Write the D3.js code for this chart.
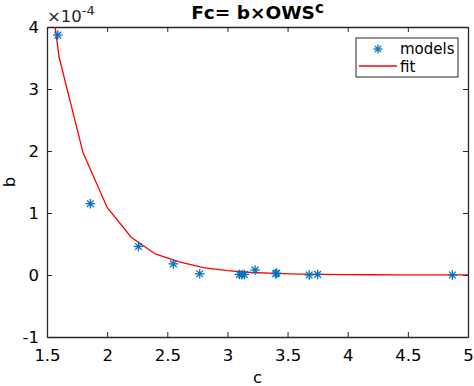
<!DOCTYPE html>
<html>
<head>
<meta charset="utf-8">
<script src="https://cdn.jsdelivr.net/npm/d3@7"></script>
<style>
  body { margin: 0; background: #fff; }
  svg { display: block; font-family: "DejaVu Sans", sans-serif; }
  .tk text { font-size: 16.5px; fill: #000; font-family: "DejaVu Sans", sans-serif; }
</style>
</head>
<body>
<div id="chart"></div>
<script>
// model points (c, b in units of 1e-4)
const modelC = [1.59, 1.86, 2.26, 2.55, 2.77, 3.10, 3.12, 3.14, 3.23, 3.40, 3.41, 3.68, 3.75, 4.87];
const modelB = [3.87, 1.15, 0.46, 0.18, 0.02, 0.01, 0.005, 0.01, 0.08, 0.02, 0.03, 0.0, 0.01, 0.0];
// fitted curve samples
const fitC = [1.5, 1.6, 1.8, 2.0, 2.2, 2.4, 2.6, 2.8, 3.0, 3.2, 3.4, 3.6, 3.8, 4.0, 4.2, 4.4, 4.6, 4.8, 5.0];
const fitB = [5.0, 3.52, 1.97, 1.09, 0.61, 0.34, 0.21, 0.12, 0.07, 0.04, 0.025, 0.015, 0.01, 0.006, 0.004, 0.003, 0.002, 0.001, 0.001];
const xTicks = [1.5, 2, 2.5, 3, 3.5, 4, 4.5, 5];
const yTicks = [-1, 0, 1, 2, 3, 4];

const W = 474, H = 386, m = { t: 27, r: 6, b: 49, l: 47 };
const x = d3.scaleLinear().domain([1.5, 5]).range([m.l, W - m.r]);
const y = d3.scaleLinear().domain([-1, 4]).range([H - m.b, m.t]);
const svg = d3.select('#chart').append('svg').attr('width', W).attr('height', H);

svg.append('clipPath').attr('id', 'clip').append('rect')
  .attr('x', m.l).attr('y', m.t).attr('width', W - m.r - m.l).attr('height', H - m.b - m.t);

// axes: ticks inward on all four sides, box on
const tl = 5;
const gx = svg.append('g').attr('class', 'tk').attr('transform', `translate(0,${H - m.b})`)
  .call(d3.axisBottom(x).tickValues(xTicks).tickFormat(String).tickSizeInner(-tl).tickSizeOuter(0).tickPadding(9));
const gy = svg.append('g').attr('class', 'tk').attr('transform', `translate(${m.l},0)`)
  .call(d3.axisLeft(y).tickValues(yTicks).tickFormat(String).tickSizeInner(-tl).tickSizeOuter(0).tickPadding(8));
svg.append('g').attr('transform', `translate(0,${m.t})`)
  .call(d3.axisTop(x).tickValues(xTicks).tickFormat('').tickSizeInner(-tl).tickSizeOuter(0));
svg.append('g').attr('transform', `translate(${W - m.r},0)`)
  .call(d3.axisRight(y).tickValues(yTicks).tickFormat('').tickSizeInner(-tl).tickSizeOuter(0));
svg.selectAll('.domain').attr('stroke', '#262626').attr('stroke-width', 1.3);
svg.selectAll('.tick line').attr('stroke', '#262626');
gx.selectAll('text').attr('dy', '0.9em');

// fit line
const pts = fitC.map((c, i) => [c, fitB[i]]);
svg.append('path').datum(pts).attr('clip-path', 'url(#clip)')
  .attr('d', d3.line().x(d => x(d[0])).y(d => y(d[1])))
  .attr('fill', 'none').attr('stroke', '#ff0000').attr('stroke-width', 1.3);

// asterisk markers
const star = (g, s) => {
  [[-s, 0, s, 0], [0, -s, 0, s], [-s * .7, -s * .7, s * .7, s * .7], [-s * .7, s * .7, s * .7, -s * .7]]
    .forEach(l => g.append('line').attr('x1', l[0]).attr('y1', l[1]).attr('x2', l[2]).attr('y2', l[3])
      .attr('stroke', '#0072bd').attr('stroke-width', 1.3));
};
svg.append('g').selectAll('g').data(modelC.map((c, i) => [c, modelB[i]])).join('g')
  .attr('transform', d => `translate(${x(d[0])},${y(d[1])})`)
  .each(function () { star(d3.select(this), 4.8); });

// exponent label
const ex = svg.append('text').attr('x', m.l).attr('y', 22).attr('font-size', 16.5).attr('fill', '#262626');
ex.append('tspan').text('×10');
ex.append('tspan').attr('dy', -7).attr('font-size', 13).text('-4');

// title
const tt = svg.append('text').attr('x', (m.l + W - m.r) / 2).attr('y', 18.5).attr('text-anchor', 'middle')
  .attr('font-size', 18.5).attr('font-weight', 'bold');
tt.append('tspan').text('Fc= b×OWS');
tt.append('tspan').attr('dy', -5.5).attr('font-size', 15).text('c');

// axis labels
svg.append('text').attr('x', (m.l + W - m.r) / 2).attr('y', 383).attr('text-anchor', 'middle')
  .attr('font-size', 16.5).text('c');
svg.append('text').attr('transform', 'translate(15,182) rotate(-90)').attr('text-anchor', 'middle')
  .attr('font-size', 16.5).text('b');

// legend
const lg = svg.append('g');
lg.append('rect').attr('x', 356).attr('y', 38).attr('width', 102).attr('height', 39)
  .attr('fill', '#fff').attr('stroke', '#262626').attr('stroke-width', 1);
star(lg.append('g').attr('transform', 'translate(378,49)'), 4.5);
lg.append('line').attr('x1', 359).attr('x2', 397).attr('y1', 66).attr('y2', 66)
  .attr('stroke', '#ff0000').attr('stroke-width', 1.3);
lg.append('text').attr('x', 400).attr('y', 54).attr('font-size', 15).text('models');
lg.append('text').attr('x', 400).attr('y', 72).attr('font-size', 15).text('fit');
</script>
</body>
</html>
